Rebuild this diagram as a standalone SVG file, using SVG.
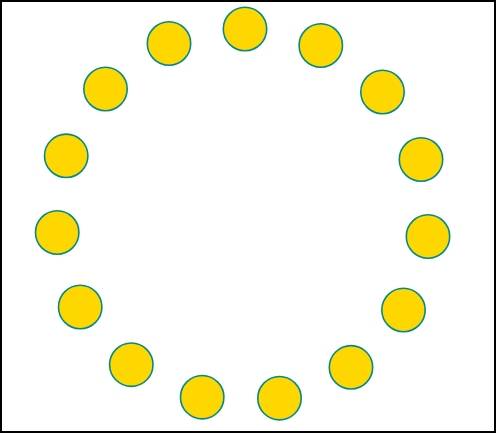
<svg xmlns="http://www.w3.org/2000/svg" width="496" height="433" viewBox="0 0 496 433">
<style>
.n{fill:#FFD700;stroke:#008B8B;stroke-width:1.6}
.frame{fill:#fff;stroke:#000;stroke-width:2}
</style>
<rect class="frame" x="1" y="1" width="494" height="431"/>
<g id="n1"><circle class="n" cx="245" cy="29" r="21.7"/></g>
<g id="n2"><circle class="n" cx="320.8" cy="45.5" r="21.7"/></g>
<g id="n3"><circle class="n" cx="382.5" cy="92" r="21.7"/></g>
<g id="n4"><circle class="n" cx="421" cy="159.5" r="21.7"/></g>
<g id="n5"><circle class="n" cx="428" cy="236.5" r="21.7"/></g>
<g id="n6"><circle class="n" cx="403.5" cy="310" r="21.7"/></g>
<g id="n7"><circle class="n" cx="351" cy="367.3" r="21.7"/></g>
<g id="n8"><circle class="n" cx="279.5" cy="398.2" r="21.7"/></g>
<g id="n9"><circle class="n" cx="202.2" cy="397.2" r="21.7"/></g>
<g id="n10"><circle class="n" cx="131.3" cy="364.7" r="21.7"/></g>
<g id="n11"><circle class="n" cx="80.2" cy="307" r="21.7"/></g>
<g id="n12"><circle class="n" cx="57.2" cy="232.5" r="21.7"/></g>
<g id="n13"><circle class="n" cx="66.2" cy="155.8" r="21.7"/></g>
<g id="n14"><circle class="n" cx="105.5" cy="89" r="21.7"/></g>
<g id="n15"><circle class="n" cx="169" cy="43.5" r="21.7"/></g>
<g id="connectors"></g>
</svg>
